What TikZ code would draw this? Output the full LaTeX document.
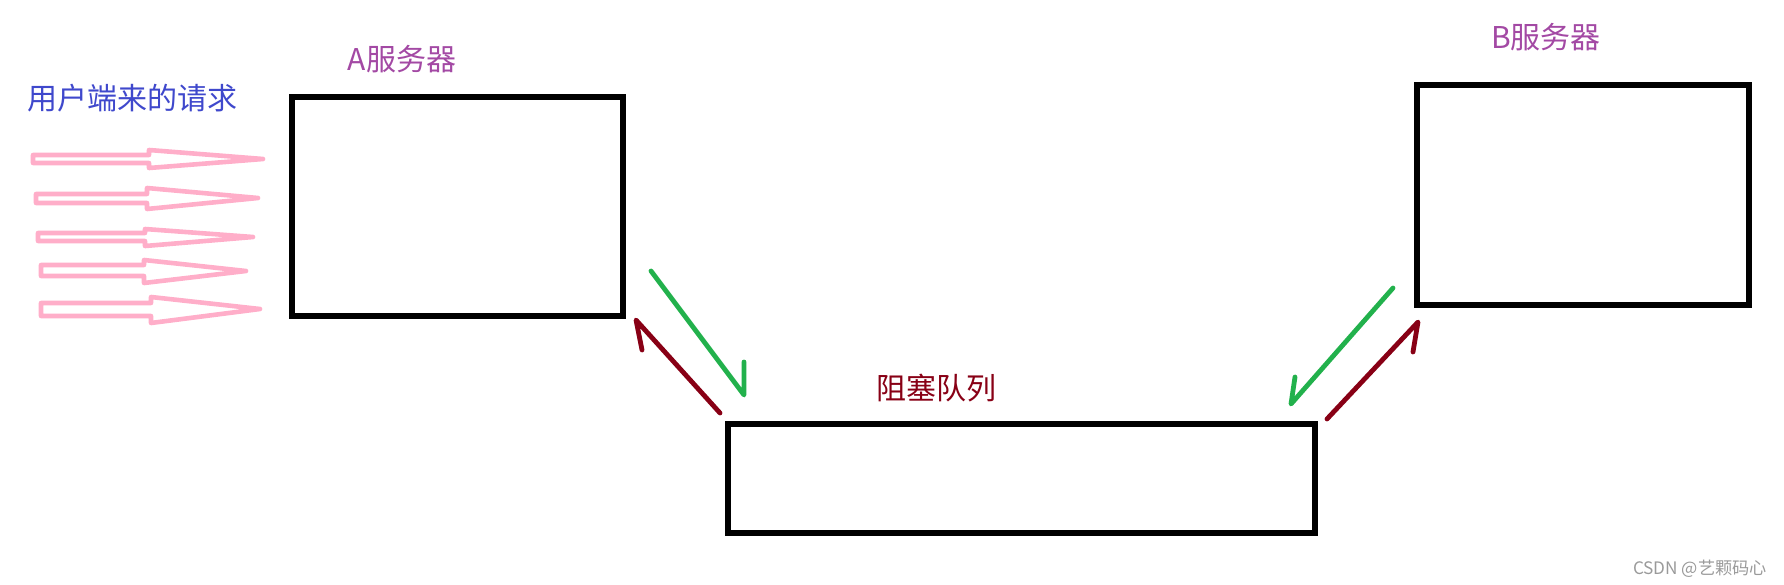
\documentclass[tikz,border=0pt]{standalone}
\usepackage{fontspec}
\setmainfont{Noto Sans CJK SC}
\definecolor{lblpurple}{HTML}{A349A4}
\definecolor{lblblue}{HTML}{3F48CC}
\definecolor{lbldark}{HTML}{880015}
\definecolor{arrgreen}{HTML}{22B14C}
\definecolor{arrpink}{HTML}{FFAEC9}
\definecolor{wmgray}{HTML}{9A9A9A}
\begin{document}
\begin{tikzpicture}[x=0.5pt,y=-0.5pt,
  box/.style={draw=black, line width=3pt, inner sep=0pt, outer sep=0pt},
  lbl/.style={inner sep=0pt, font=\fontsize{15}{16}\selectfont},
  hollow/.style={draw=arrpink, line width=2.3pt, line join=round, line cap=round},
  greenconn/.style={draw=arrgreen, line width=2.4pt, line cap=round, line join=round},
  redconn/.style={draw=lbldark, line width=2.4pt, line cap=round, line join=round}]
\useasboundingbox (0,0) rectangle (1784,584);
% boxes
\node[box, minimum width=165.5pt, minimum height=109.5pt] (A) at (457.5,206.5) {};
\node[box, minimum width=166pt, minimum height=110pt] (B) at (1583,195) {};
\node[box, minimum width=293.5pt, minimum height=54.5pt] (Q) at (1021.5,478.5) {};
% labels
\node[lbl, text=lblpurple] (Alabel) at (402,59) {A服务器};
\node[lbl, text=lblpurple] (Blabel) at (1546,37) {B服务器};
\node[lbl, text=lbldark] (Qlabel) at (936,388) {阻塞队列};
\node[lbl, text=lblblue] (Ulabel) at (132,98) {用户端来的请求};
\node[inner sep=0pt, text=wmgray, font=\fontsize{8.6}{10}\selectfont] (wm) at (1700,569) {CSDN @艺颗码心};
% hollow request arrows
\foreach \a/\b/\c/\d/\e/\f/\g/\h in {
  33/155/163/149/150/168/263/159,
  36/194/203/147/188/209/258/198,
  38/233/241/145/229/246/253/237,
  41/265/276/144/260/283/246/271,
  41/303/316/151/297/323/260/309}
  \draw[hollow] (\a,\b) -- (\d,\b) -- (\d,\e) -- (\g,\h) -- (\d,\f) -- (\d,\c) -- (\a,\c) -- cycle;
% connectors
\coordinate (g1s) at (651,271); \coordinate (g1e) at (744,395); \coordinate (g1b) at (744,362);
\coordinate (r1s) at (720,413); \coordinate (r1e) at (636,320); \coordinate (r1b) at (642,350);
\coordinate (g2s) at (1393,288); \coordinate (g2e) at (1291,404); \coordinate (g2b) at (1295,377);
\coordinate (r2s) at (1327,419); \coordinate (r2e) at (1418,322); \coordinate (r2b) at (1413,352);
\draw[greenconn] (g1s) -- (g1e) -- (g1b);
\draw[redconn] (r1s) -- (r1e) -- (r1b);
\draw[greenconn] (g2s) -- (g2e) -- (g2b);
\draw[redconn] (r2s) -- (r2e) -- (r2b);
\end{tikzpicture}
\end{document}
